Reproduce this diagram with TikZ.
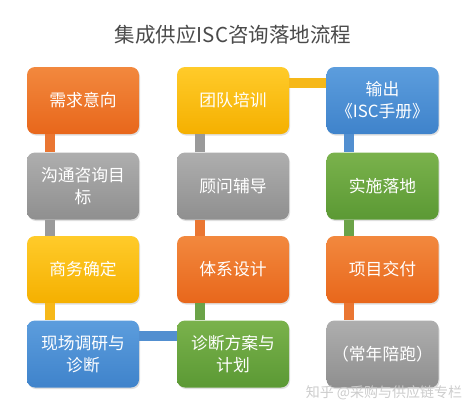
\documentclass[tikz,border=0pt]{standalone}
\usepackage{fontspec}
\newfontfamily\cjk{Noto Sans CJK SC}
\usetikzlibrary{shadows}

\definecolor{orgtop}{HTML}{F2883E}
\definecolor{orgbot}{HTML}{E8671B}
\definecolor{graytop}{HTML}{AEAEAE}
\definecolor{graybot}{HTML}{8F8F8F}
\definecolor{yeltop}{HTML}{FFCB2A}
\definecolor{yelbot}{HTML}{F5B000}
\definecolor{bluetop}{HTML}{5C9DDD}
\definecolor{bluebot}{HTML}{3F83CB}
\definecolor{grntop}{HTML}{7AB24C}
\definecolor{grnbot}{HTML}{5B9934}
\definecolor{titlegray}{HTML}{4A4A4A}

\begin{document}
\begin{tikzpicture}[x=1pt,y=-1pt]
\tikzstyle{box}=[rounded corners=8pt,minimum width=112pt,minimum height=67pt,text width=104pt,align=center,inner sep=0pt,text=white,font=\cjk\fontsize{16.8}{22}\selectfont,drop shadow={shadow xshift=1pt,shadow yshift=-1.5pt,opacity=0.25}]
\tikzstyle{orgbox}=[box,top color=orgtop,bottom color=orgbot]
\tikzstyle{graybox}=[box,top color=graytop,bottom color=graybot]
\tikzstyle{yelbox}=[box,top color=yeltop,bottom color=yelbot]
\tikzstyle{bluebox}=[box,top color=bluetop,bottom color=bluebot]
\tikzstyle{grnbox}=[box,top color=grntop,bottom color=grnbot]
\tikzstyle{link}=[line width=10pt]
\useasboundingbox (0,0) rectangle (474,413);
\node (title) at (233,35) [text=titlegray,font=\cjk\fontsize{20.5}{24}\selectfont] {集成供应ISC咨询落地流程};
\node (need) at (83,100.5) [orgbox] {需求意向};
\node (goal) at (83,186) [graybox] {沟通咨询目\\标};
\node (deal) at (83,269.5) [yelbox] {商务确定};
\node (survey) at (83,354) [bluebox] {现场调研与\\诊断};
\node (train) at (233,100.5) [yelbox] {团队培训};
\node (coach) at (233,186) [graybox] {顾问辅导};
\node (design) at (233,269.5) [orgbox] {体系设计};
\node (plan) at (233,354) [grnbox] {诊断方案与\\计划};
\node (manual) at (382.5,100.5) [bluebox] {输出\\《ISC手册》};
\node (impl) at (382.5,186) [grnbox] {实施落地};
\node (deliver) at (382.5,269.5) [orgbox] {项目交付};
\node (escort) at (382.5,354) [graybox] {（常年陪跑）};
\draw [link,orgbot!90] ([xshift=23pt]need.south west) -- ([xshift=23pt]goal.north west);
\draw [link,graybot!90] ([xshift=23pt]goal.south west) -- ([xshift=23pt]deal.north west);
\draw [link,yelbot!90] ([xshift=23pt]deal.south west) -- ([xshift=23pt]survey.north west);
\draw [link,bluebot!90] ([yshift=-16pt]survey.north east) -- ([yshift=-16pt]plan.north west);
\draw [link,grnbot!90] ([xshift=23pt]plan.north west) -- ([xshift=23pt]design.south west);
\draw [link,orgbot!90] ([xshift=23pt]design.north west) -- ([xshift=23pt]coach.south west);
\draw [link,graybot!90] ([xshift=23pt]coach.north west) -- ([xshift=23pt]train.south west);
\draw [link,yelbot!90] ([yshift=-16pt]train.north east) -- ([yshift=-16pt]manual.north west);
\draw [link,bluebot!90] ([xshift=23pt]manual.south west) -- ([xshift=23pt]impl.north west);
\draw [link,grnbot!90] ([xshift=23pt]impl.south west) -- ([xshift=23pt]deliver.north west);
\draw [link,orgbot!90] ([xshift=23pt]deliver.south west) -- ([xshift=23pt]escort.north west);
\node (mark) at (384,393) [text=black!20,font=\cjk\fontsize{14}{16}\selectfont] {知乎 @采购与供应链专栏};
\end{tikzpicture}
\end{document}
